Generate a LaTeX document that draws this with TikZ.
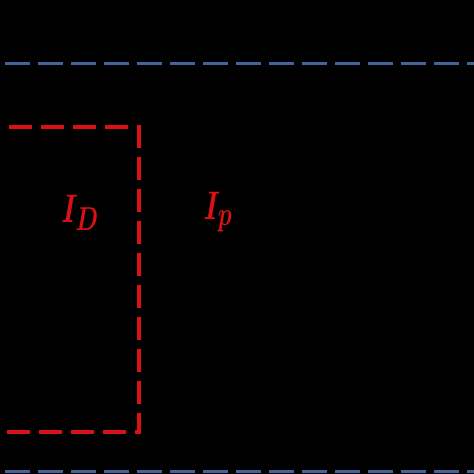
\documentclass[tikz,border=0pt]{standalone}
\usetikzlibrary{backgrounds}
\definecolor{boundblue}{RGB}{68,98,155}
\definecolor{labelred}{RGB}{220,18,18}

\begin{document}
\begin{tikzpicture}[x=1pt,y=1pt]
      \tikzstyle{bound}=[color=boundblue,line width=3pt,dash pattern=on 25pt off 8pt]
      \tikzstyle{region}=[color=labelred,line width=3.4pt,dash pattern=on 23pt off 9pt]
      \tikzstyle{label}=[text=labelred,font=\Huge\boldmath,xscale=1.12,yscale=1.6,transform shape]
      \fill[black] (0,0) rectangle (474,474);
      \useasboundingbox (0,0) rectangle (474,474);
      % blue bounds
      \coordinate (t_1) at (5,410.5);
      \coordinate (t_2) at (480,410.5);
      \coordinate (b_1) at (5,2);
      \coordinate (b_2) at (480,2);
      \draw[bound] (t_1) -- (t_2);
      \draw[bound] (b_1) -- (b_2);
      % red region
      \coordinate (r_1) at (9,347);
      \coordinate (r_2) at (139,347);
      \coordinate (r_3) at (139,42);
      \coordinate (r_4) at (-20,42);
      \draw[region] (r_1) -- (r_2) -- (r_3) -- (r_4);
      \node[label] (I_D) at (80,261) {$I_D$};
      \node[label] (I_p) at (218,262) {$I_p$};
    \end{tikzpicture}
\end{document}
